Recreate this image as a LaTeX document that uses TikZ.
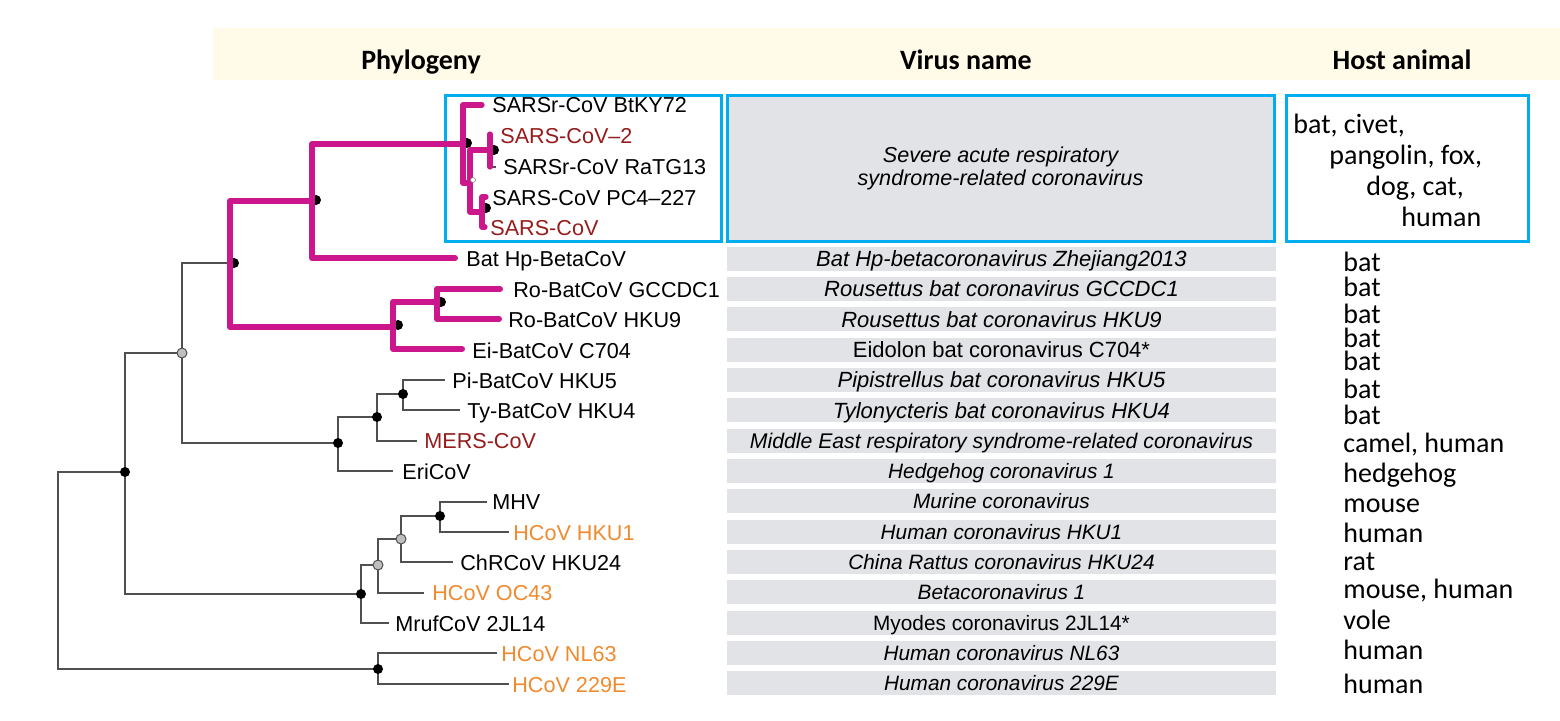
\documentclass[tikz,border=0pt]{standalone}
\usepackage{fontspec}
\setmainfont{Liberation Sans}
\newfontfamily\hostfont{Carlito}
\definecolor{mag}{RGB}{204,22,140}
\definecolor{cblue}{RGB}{0,174,239}
\definecolor{rowgrey}{RGB}{225,227,230}
\definecolor{banner}{RGB}{255,251,232}
\definecolor{dred}{RGB}{150,28,28}
\definecolor{orng}{RGB}{240,138,46}
\definecolor{thinc}{RGB}{80,80,80}
\definecolor{gdotc}{RGB}{190,190,190}
\begin{document}
\begin{tikzpicture}[x=0.5pt,y=-0.5pt,
  mline/.style={draw=mag,line width=3pt,line cap=round,line join=round},
  sline/.style={draw=mag,line width=2.6pt,line cap=round,line join=round},
  tline/.style={draw=thinc,line width=0.65pt},
  bdot/.style={circle,fill=black,inner sep=0pt,minimum size=5pt},
  gdot/.style={circle,fill=gdotc,draw=thinc,line width=0.5pt,inner sep=0pt,minimum size=5pt},
  odot/.style={circle,fill=white,draw=gray,line width=0.3pt,inner sep=0pt,minimum size=2.5pt},
  lab/.style={anchor=base west,inner sep=0pt,font=\fontsize{10.8}{12}\selectfont},
  vrow/.style={fill=rowgrey,minimum width=274.5pt,minimum height=12pt,inner sep=0pt,text height=7.9pt,text depth=0pt,font=\fontsize{11}{13}\selectfont\itshape},
  vrowl/.style={vrow,font=\fontsize{10.4}{12}\selectfont\itshape,text height=7.5pt},
  host/.style={anchor=base west,inner sep=0pt,font=\hostfont\fontsize{14}{16}\selectfont},
  head/.style={anchor=base,inner sep=0pt,font=\hostfont\bfseries\fontsize{14}{16}\selectfont},
  bluebox/.style={draw=cblue,line width=1.5pt,inner sep=0pt}]
\useasboundingbox (0,0) rectangle (1560,720);
% banner and headers
\node[fill=banner,minimum width=673.5pt,minimum height=26pt,inner sep=0pt] (banner) at (886.5,54) {};
\node[head] (hphy) at (421,69) {Phylogeny};
\node[head] (hvir) at (966,69) {Virus name};
\node[head] (hhost) at (1402,69) {Host animal};
% blue boxes
\node[bluebox,minimum width=138pt,minimum height=73pt] (box1) at (583,168) {};
\node[bluebox,fill=rowgrey,minimum width=273.5pt,minimum height=73pt,align=center,font=\fontsize{10.8}{11.5}\selectfont\itshape] (box2) at (1000.5,168) {Severe acute respiratory\\syndrome-related coronavirus};
\node[bluebox,minimum width=121pt,minimum height=73pt] (box3) at (1407,168) {};
\node[host] (hb1) at (1293,133) {bat, civet,};
\node[host] (hb2) at (1329,164) {pangolin, fox,};
\node[host] (hb3) at (1366,195) {dog, cat,};
\node[host] (hb4) at (1401,226) {human};
% virus rows
\node[vrow] (r1) at (1001.5,258.7) {Bat Hp-betacoronavirus Zhejiang2013};
\node[vrow] (r2) at (1001.5,289.0) {Rousettus bat coronavirus GCCDC1};
\node[vrow] (r3) at (1001.5,319.3) {Rousettus bat coronavirus HKU9};
\node[vrow,font=\fontsize{11}{13}\selectfont] (r4) at (1001.5,349.6) {Eidolon bat coronavirus C704*};
\node[vrow] (r5) at (1001.5,380.0) {Pipistrellus bat coronavirus HKU5};
\node[vrow] (r6) at (1001.5,410.3) {Tylonycteris bat coronavirus HKU4};
\node[vrow,font=\fontsize{10.6}{12}\selectfont\itshape] (r7) at (1001.5,440.6) {Middle East respiratory syndrome-related coronavirus};
\node[vrowl] (r8) at (1001.5,471.0) {Hedgehog coronavirus 1};
\node[vrowl] (r9) at (1001.5,501.3) {Murine coronavirus};
\node[vrowl] (r10) at (1001.5,531.6) {Human coronavirus HKU1};
\node[vrowl] (r11) at (1001.5,562.0) {China Rattus coronavirus HKU24};
\node[vrowl] (r12) at (1001.5,592.3) {Betacoronavirus 1};
\node[vrowl,font=\fontsize{10.4}{12}\selectfont] (r13) at (1001.5,622.6) {Myodes coronavirus 2JL14*};
\node[vrowl] (r14) at (1001.5,653.0) {Human coronavirus NL63};
\node[vrowl] (r15) at (1001.5,683.3) {Human coronavirus 229E};
% hosts
\node[host] (h1) at (1343,271) {bat};
\node[host] (h2) at (1343,296) {bat};
\node[host] (h3) at (1343,323) {bat};
\node[host] (h4) at (1343,347) {bat};
\node[host] (h5) at (1343,370) {bat};
\node[host] (h6) at (1343,398) {bat};
\node[host] (h7) at (1343,424) {bat};
\node[host] (h8) at (1343,452) {camel, human};
\node[host] (h9) at (1343,482) {hedgehog};
\node[host] (h10) at (1343,512) {mouse};
\node[host] (h11) at (1343,542) {human};
\node[host] (h12) at (1343,570) {rat};
\node[host] (h13) at (1343,598) {mouse, human};
\node[host] (h14) at (1343,629) {vole};
\node[host] (h15) at (1343,659) {human};
\node[host] (h16) at (1343,693) {human};
% tree internal nodes
\coordinate (root) at (58,570);
\coordinate (A) at (125,472);
\coordinate (G) at (182,353);
\coordinate (H) at (230,263);
\coordinate (N) at (312,201);
\coordinate (O) at (463,144);
\coordinate (P) at (470,183);
\coordinate (Q) at (490,150);
\coordinate (R) at (482,212);
\coordinate (L) at (393,327);
\coordinate (M) at (437,302);
\coordinate (I) at (338,443);
\coordinate (J) at (377,417);
\coordinate (K) at (403,394);
\coordinate (B) at (361,594);
\coordinate (C) at (378,565);
\coordinate (D) at (401,539);
\coordinate (E) at (440,516);
\coordinate (F) at (378,669);
% tips
\coordinate (tBtKY) at (482,105);
\coordinate (tSARS2) at (490,134);
\coordinate (qr) at (490,167);
\coordinate (tRaTG) at (496,167);
\coordinate (tPC4) at (486,197);
\coordinate (tSARS) at (485,227);
\coordinate (tBatHp) at (455,258);
\coordinate (tGCC) at (500,289);
\coordinate (tHKU9) at (499,319);
\coordinate (tEi) at (462,349);
\coordinate (tPi) at (445,380);
\coordinate (tTy) at (460,410);
\coordinate (tMERS) at (417,441);
\coordinate (tEri) at (393,471);
\coordinate (tMHV) at (487,502);
\coordinate (tHKU1) at (509,532);
\coordinate (tChR) at (453,562);
\coordinate (tOC43) at (424,593);
\coordinate (tMruf) at (389,623);
\coordinate (tNL63) at (497,653);
\coordinate (t229E) at (509,684);
% labels
\node[lab] (l1) at (492,112) {SARSr-CoV BtKY72};
\node[lab,text=dred] (l2) at (500,143) {SARS-CoV–2};
\node[lab] (l3) at (503,174) {SARSr-CoV RaTG13};
\node[lab] (l4) at (492,205) {SARS-CoV PC4–227};
\node[lab,text=dred] (l5) at (490,235) {SARS-CoV};
\node[lab] (l6) at (466,266) {Bat Hp-BetaCoV};
\node[lab] (l7) at (513,297) {Ro-BatCoV GCCDC1};
\node[lab] (l8) at (508,327) {Ro-BatCoV HKU9};
\node[lab] (l9) at (472,358) {Ei-BatCoV C704};
\node[lab] (l10) at (452,388) {Pi-BatCoV HKU5};
\node[lab] (l11) at (467,418) {Ty-BatCoV HKU4};
\node[lab,text=dred] (l12) at (424,448) {MERS-CoV};
\node[lab] (l13) at (402,479) {EriCoV};
\node[lab] (l14) at (492,509) {MHV};
\node[lab,text=orng] (l15) at (513,540) {HCoV HKU1};
\node[lab] (l16) at (460,570) {ChRCoV HKU24};
\node[lab,text=orng] (l17) at (432,600) {HCoV OC43};
\node[lab] (l18) at (395,631) {MrufCoV 2JL14};
\node[lab,text=orng] (l19) at (501,661) {HCoV NL63};
\node[lab,text=orng] (l20) at (512,692) {HCoV 229E};
% thin branches
\draw[tline] (root) |- (A);
\draw[tline] (root) |- (F);
\draw[tline] (A) |- (G);
\draw[tline] (A) |- (B);
\draw[tline] (G) |- (H);
\draw[tline] (G) |- (I);
\draw[tline] (I) |- (J);
\draw[tline] (I) |- (tEri);
\draw[tline] (J) |- (K);
\draw[tline] (J) |- (tMERS);
\draw[tline] (K) |- (tPi);
\draw[tline] (K) |- (tTy);
\draw[tline] (B) |- (C);
\draw[tline] (B) |- (tMruf);
\draw[tline] (C) |- (D);
\draw[tline] (C) |- (tOC43);
\draw[tline] (D) |- (E);
\draw[tline] (D) |- (tChR);
\draw[tline] (E) |- (tMHV);
\draw[tline] (E) |- (tHKU1);
\draw[tline] (F) |- (tNL63);
\draw[tline] (F) |- (t229E);
\draw[tline] (qr) -- (tRaTG);
% dots on magenta nodes (under the lines)
\node[bdot] (dH) at (234,263) {};
\node[bdot] (dN) at (316,200) {};
\node[bdot] (dO) at (467,143) {};
\node[bdot] (dQ) at (494,150) {};
\node[bdot] (dR) at (486,208) {};
\node[bdot] (dL) at (398,325) {};
\node[bdot] (dM) at (441,302) {};
% magenta branches
\draw[mline] (H) |- (N);
\draw[mline] (H) |- (L);
\draw[mline] (N) |- (O);
\draw[mline] (N) |- (tBatHp);
\draw[mline] (L) |- (M);
\draw[mline] (L) |- (tEi);
\draw[mline] (M) |- (tGCC);
\draw[mline] (M) |- (tHKU9);
\draw[sline] (O) |- (tBtKY);
\draw[sline] (O) |- (P);
\draw[sline] (P) |- (Q);
\draw[sline] (P) |- (R);
\draw[sline] (Q) |- (tSARS2);
\draw[sline] (Q) |- (qr);
\draw[sline] (R) |- (tPC4);
\draw[sline] (R) |- (tSARS);
\node[odot] (dP) at (473,180) {};
% dots on thin nodes
\node[bdot] (dA) at (A) {};
\node[gdot] (dG) at (G) {};
\node[bdot] (dI) at (I) {};
\node[bdot] (dJ) at (J) {};
\node[bdot] (dK) at (K) {};
\node[bdot] (dB) at (B) {};
\node[gdot] (dC) at (C) {};
\node[gdot] (dD) at (D) {};
\node[bdot] (dE) at (E) {};
\node[bdot] (dF) at (F) {};
\end{tikzpicture}
\end{document}
